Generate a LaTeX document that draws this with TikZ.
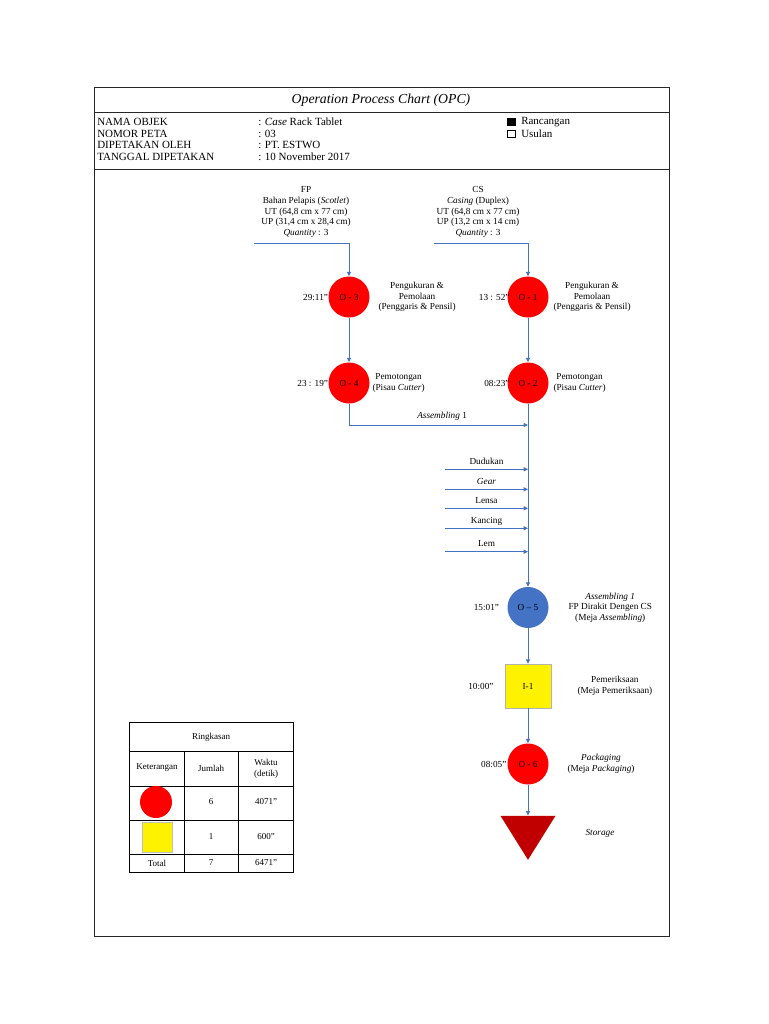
\documentclass[tikz,border=0pt]{standalone}
\usepackage{fontspec}
\setmainfont{Liberation Serif}
\usepackage{xcolor}
\usetikzlibrary{arrows.meta, positioning, shapes.geometric}

\definecolor{lineblue}{RGB}{68,114,196}
\definecolor{opblue}{RGB}{68,114,196}
\definecolor{stordark}{RGB}{192,0,0}
\newcommand\flowfont{\fontsize{7.4pt}{8.5pt}\selectfont}
\newcommand\headfont{\fontsize{8.8pt}{10pt}\selectfont}
\newcommand\titlefont{\fontsize{11pt}{13pt}\selectfont}
\newcommand\tabfont{\fontsize{7.2pt}{8.8pt}\selectfont}
\newcommand\secmark{\symbol{34}}

\begin{document}
\begin{tikzpicture}[
    x=0.8pt, y=-0.8pt,
    op/.style={circle, fill=red, minimum size=32.8pt, inner sep=0pt, font=\flowfont},
    asm/.style={circle, fill=opblue, minimum size=32.8pt, inner sep=0pt, font=\flowfont},
    insp/.style={rectangle, draw=gray!60, fill=yellow, minimum width=36.8pt,
                 minimum height=35.2pt, inner sep=0pt, font=\flowfont},
    store/.style={isosceles triangle, isosceles triangle stretches, shape border rotate=270,
                  fill=stordark, minimum width=44pt, minimum height=35.2pt, inner sep=0pt},
    txt/.style={font=\flowfont, align=center, inner sep=0pt},
    tm/.style={font=\flowfont, inner sep=0pt},
    inlbl/.style={font=\flowfont, inner sep=0pt, text height=5pt, text depth=1.6pt},
    flow/.style={-{Triangle[length=3.5pt, width=3.2pt]}, draw=lineblue, line width=0.7pt},
    hd/.style={font=\headfont, anchor=west, inner sep=0pt},
    chk/.style={draw, minimum width=6.4pt, minimum height=5.8pt, inner sep=0pt},
    cell/.style={font=\tabfont, align=center, inner sep=0pt}
  ]
  \fill[white] (0,0) rectangle (768,1024);
  \useasboundingbox (0,0) rectangle (768,1024);

  % frame and header
  \draw[line width=0.8pt, black!85] (94,88) rectangle (669,936);
  \draw[line width=0.7pt, black!85] (94,112) -- (669,112);
  \draw[line width=0.7pt, black!85] (94,169) -- (669,169);
  \node[font=\titlefont\itshape, inner sep=0pt] (title) at (381,100) {Operation Process Chart (OPC)};

  \node[hd] (nama)  at (97,122)   {NAMA OBJEK};
  \node[hd] (nomor) at (97,133.5) {NOMOR PETA};
  \node[hd] (oleh)  at (97,145)   {DIPETAKAN OLEH};
  \node[hd] (tgl)   at (97,157)   {TANGGAL DIPETAKAN};
  \node[hd] (namav)  at (258,122)   {: \textit{Case} Rack Tablet};
  \node[hd] (nomorv) at (258,133.5) {: 03};
  \node[hd] (olehv)  at (258,145)   {: PT. ESTWO};
  \node[hd] (tglv)   at (258,157)   {: 10 November 2017};
  \node[chk, fill=black] (chk1) at (511,122) {};
  \node[chk, fill=white] (chk2) at (511,134) {};
  \node[hd] (ranc) at (521,122) {Rancangan};
  \node[hd] (usul) at (521,133.5) {Usulan};

  % materials
  \node[txt] (fp) at (306,212) {FP\\Bahan Pelapis (\textit{Scotlet})\\UT (64,8 cm x 77 cm)\\UP (31,4 cm x 28,4 cm)\\\textit{Quantity} : 3};
  \node[txt] (cs) at (478,212) {CS\\\textit{Casing} (Duplex)\\UT (64,8 cm x 77 cm)\\UP (13,2 cm x 14 cm)\\\textit{Quantity} : 3};
  \coordinate (fpin) at (254,243);
  \coordinate (csin) at (434,243);

  % operations
  \node[op] (o3) at (349,297) {O - 3};
  \node[op] (o1) at (528,297) {O - 1};
  \node[op] (o4) at (349,383) {O - 4};
  \node[op] (o2) at (528,383) {O - 2};
  \node[asm] (o5) at (528,607.5) {O -- 5};
  \node[insp] (i1) at (528,686) {I-1};
  \node[op] (o6) at (528,764) {O - 6};
  \node[store] (stor) at (528,831) {};

  % times
  \node[tm, left=0pt of o3] (t3) {29:11\secmark};
  \node[tm, left=-2pt of o1] (t1) {13 : 52\secmark};
  \node[tm, left=0pt of o4] (t4) {23 : 19\secmark};
  \node[tm, left=-2pt of o2] (t2) {08:23\secmark};
  \node[tm, left=6.4pt of o5] (t5) {15:01\secmark};
  \node[tm, left=8.8pt of i1] (ti1) {10:00\secmark};
  \node[tm, left=0.5pt of o6] (t6) {08:05\secmark};

  % descriptions
  \node[txt, right=6.8pt of o3] (d3) {Pengukuran \&\\Pemolaan\\(Penggaris \& Pensil)};
  \node[txt, right=3.6pt of o1] (d1) {Pengukuran \&\\Pemolaan\\(Penggaris \& Pensil)};
  \node[txt, right=2pt of o4] (d4) {Pemotongan\\(Pisau \textit{Cutter})};
  \node[txt, right=3.6pt of o2] (d2) {Pemotongan\\(Pisau \textit{Cutter})};
  \node[txt, right=15.6pt of o5] (d5) {\textit{Assembling 1}\\FP Dirakit Dengen CS\\(Meja \textit{Assembling})};
  \node[txt, right=20.8pt of i1] (di1) {Pemeriksaan\\(Meja Pemeriksaan)};
  \node[txt, right=14.8pt of o6] (d6) {\textit{Packaging}\\(Meja \textit{Packaging})};
  \node[txt, font=\flowfont\itshape] (dstor) at (600,833) {Storage};

  % flow lines
  \coordinate (asmin) at (528,425);
  \draw[flow] (fpin) -| (o3);
  \draw[flow] (csin) -| (o1);
  \draw[flow] (o3) -- (o4);
  \draw[flow] (o1) -- (o2);
  \draw[flow] (o4) |- node[txt, pos=0.76, above=3pt] (asml) {\textit{Assembling} 1} (asmin);
  \draw[flow] (o2) -- (o5);
  \draw[flow] (o5) -- (i1);
  \draw[flow] (i1) -- (o6);
  \draw[flow] (o6) -- (stor);

  % added parts
  \coordinate (in1) at (445,469.3);
  \coordinate (in2) at (445,489.3);
  \coordinate (in3) at (445,508.3);
  \coordinate (in4) at (445,528.3);
  \coordinate (in5) at (445,551.7);
  \draw[flow] (in1) -- node[inlbl, above=2pt] (p1) {Dudukan} (in1 -| o5);
  \draw[flow] (in2) -- node[inlbl, above=2pt] (p2) {\textit{Gear}} (in2 -| o5);
  \draw[flow] (in3) -- node[inlbl, above=2pt] (p3) {Lensa} (in3 -| o5);
  \draw[flow] (in4) -- node[inlbl, above=2pt] (p4) {Kancing} (in4 -| o5);
  \draw[flow] (in5) -- node[inlbl, above=2pt] (p5) {Lem} (in5 -| o5);

  % summary table
  \draw[line width=0.6pt] (129,722) rectangle (293,872);
  \draw[line width=0.6pt] (129,751) -- (293,751);
  \draw[line width=0.6pt] (129,786) -- (293,786);
  \draw[line width=0.6pt] (129,820) -- (293,820);
  \draw[line width=0.6pt] (129,854) -- (293,854);
  \draw[line width=0.6pt] (184,751) -- (184,872);
  \draw[line width=0.6pt] (238,751) -- (238,872);
  \node[cell] (ring) at (211,737) {Ringkasan};
  \node[cell] (ket) at (157,768) {Keterangan};
  \node[cell] (jml) at (211,768) {Jumlah};
  \node[cell] (wkt) at (266,769) {Waktu\\(detik)};
  \node[circle, fill=red, minimum size=25.6pt, inner sep=0pt] (kcirc) at (156,802) {};
  \node[cell] (n6) at (211,802) {6};
  \node[cell] (w6) at (266,802) {4071\secmark};
  \node[draw=gray!50, fill=yellow, minimum size=24pt, inner sep=0pt] (ksq) at (157,837) {};
  \node[cell] (n1) at (211,837) {1};
  \node[cell] (w1) at (266,837) {600\secmark};
  \node[cell] (tot) at (157,863) {Total};
  \node[cell] (n7) at (211,863) {7};
  \node[cell] (w7) at (266,863) {6471\secmark};
\end{tikzpicture}
\end{document}
